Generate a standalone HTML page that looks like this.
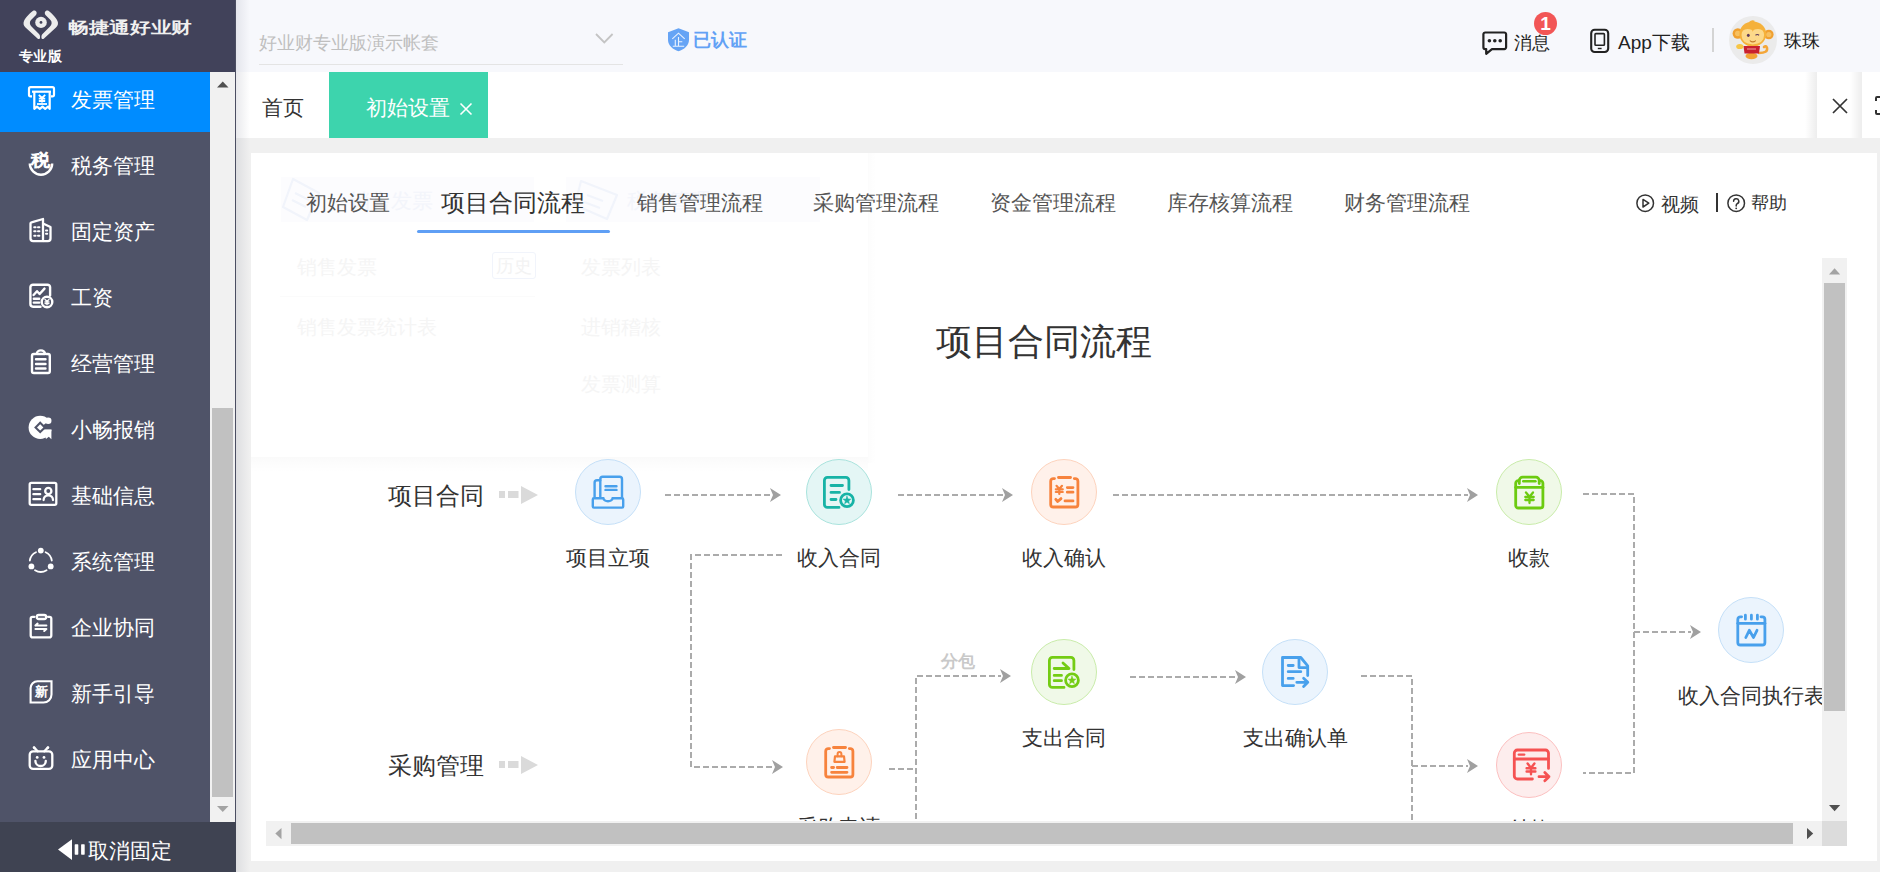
<!DOCTYPE html>
<html><head><meta charset="utf-8">
<style>
*{box-sizing:border-box;margin:0;padding:0}
html,body{width:1880px;height:872px;overflow:hidden;background:#f0f0f0;font-family:"Liberation Sans",sans-serif;}
.a{position:absolute}
.t{position:absolute;white-space:nowrap;line-height:1}
svg{position:absolute;overflow:visible}
.mt{position:absolute;left:71px;font-size:21px;color:#fff;white-space:nowrap;line-height:1}
.lbl{position:absolute;font-size:21px;color:#333;white-space:nowrap;line-height:1;width:200px;text-align:center}
.node{position:absolute;width:66px;height:66px;border-radius:50%;border:1px solid}
.nb{background:#ebf4fd;border-color:#c5e0f8}
.nt{background:#e4f6f5;border-color:#a9e3dd}
.no{background:#fff1ea;border-color:#fdd3bd}
.ng{background:#f0f9e8;border-color:#c9ecaa}
.nr{background:#fdeded;border-color:#fcc0c0}
.tab{position:absolute;top:192px;font-size:21px;color:#555;white-space:nowrap;line-height:1}
</style></head><body>

<!-- ============ SIDEBAR ============ -->
<div class="a" style="left:0;top:0;width:236px;height:872px;background:#4f5368"></div>
<div class="a" style="left:0;top:0;width:236px;height:72px;background:#41425a"></div>
<!-- logo -->
<svg style="left:23px;top:10px" width="36" height="30" viewBox="0 0 36 30">
 <g fill="#ececec">
  <path d="M10.5 0.5 C8 2 2.5 7.5 1 11 C0 13.5 0.5 15.5 2.5 17.5 L14.5 28.5 C15.5 29.5 16.8 29 17 28 C17.2 26 17 25 15.5 23.5 L8.5 16.5 C6.5 14.5 6.3 12 8 10 L13 5 C14.5 3 13.5 0 10.5 0.5 Z"/>
  <path transform="translate(35.5,0) scale(-1,1)" d="M10.5 0.5 C8 2 2.5 7.5 1 11 C0 13.5 0.5 15.5 2.5 17.5 L14.5 28.5 C15.5 29.5 16.8 29 17 28 C17.2 26 17 25 15.5 23.5 L8.5 16.5 C6.5 14.5 6.3 12 8 10 L13 5 C14.5 3 13.5 0 10.5 0.5 Z"/>
  <ellipse cx="18" cy="12.4" rx="5.8" ry="5.6"/>
 </g>
 <circle cx="18" cy="12.4" r="1.4" fill="#41425a"/>
</svg>
<div class="t" style="left:68px;top:20px;font-size:16px;font-weight:bold;color:#f0f0f0;transform:scaleX(1.29);transform-origin:0 0">畅捷通好业财</div>
<div class="t" style="left:19px;top:49px;font-size:14px;font-weight:bold;color:#fff;letter-spacing:0.4px">专业版</div>

<!-- sidebar scrollbar -->
<div class="a" style="left:210px;top:72px;width:25px;height:750px;background:#f1f1f1"></div>
<div class="a" style="left:212px;top:408px;width:21px;height:389px;background:#c1c1c1"></div>
<svg style="left:217px;top:81px" width="12" height="7" viewBox="0 0 12 7"><path d="M0 6.5 L5.75 0.5 L11.5 6.5 Z" fill="#505050"/></svg>
<svg style="left:217px;top:806px" width="12" height="7" viewBox="0 0 12 7"><path d="M0 0 L5.75 6 L11.5 0 Z" fill="#a3a3a3"/></svg>
<div class="a" style="left:235px;top:0;width:1px;height:872px;background:#4b4e62"></div>
<!-- active item -->
<div class="a" style="left:0;top:72px;width:210px;height:60px;background:#008cff"></div>
<div class="a" style="left:0;top:822px;width:236px;height:50px;background:#3f4352"></div>

<!-- menu icons -->
<svg style="left:28px;top:86px" width="27" height="24" viewBox="0 0 27 24" fill="none" stroke="#fff" stroke-width="2.2" stroke-linejoin="round">
 <path d="M4 10.3 H2.6 a1.6 1.6 0 0 1 -1.6 -1.6 V2.7 a1.6 1.6 0 0 1 1.6 -1.6 H24.4 a1.6 1.6 0 0 1 1.6 1.6 V8.7 a1.6 1.6 0 0 1 -1.6 1.6 H23"/>
 <path d="M4 5.7 H23"/>
 <path d="M6.3 5.7 V22.8 L9 20.6 L11.8 22.8 L14.5 20.6 L17.2 22.8 L20 20.6 L21.7 22.8 V5.7"/>
 <path d="M10.8 8.8 L14 12 L17.2 8.8 M14 12 V16.5 M10.8 12.6 H17.2 M10.8 15 H17.2" stroke-width="1.8"/>
 <path d="M9 18 H19" stroke-width="1.8"/>
</svg>
<svg style="left:28px;top:152px" width="26" height="25" viewBox="0 0 26 25">
 <path d="M1.8 11.5 A11.2 11.2 0 0 0 24.2 11.5" fill="none" stroke="#fff" stroke-width="2.4"/>
</svg>
<div class="t" style="left:31px;top:152px;font-size:17px;color:#fff;-webkit-text-stroke:1px #fff;transform:scaleX(1.12);transform-origin:0 0">税</div>
<svg style="left:29px;top:217px" width="24" height="26" viewBox="0 0 24 26" fill="none" stroke="#fff" stroke-width="2.3" stroke-linejoin="round">
 <path d="M14 2 L2.5 5.3 a1.2 1.2 0 0 0 -1 1.2 V21.5 a2.6 2.6 0 0 0 2.6 2.6 H14 Z"/>
 <path d="M14 6.5 L21.5 10 V21.5 a2.6 2.6 0 0 1 -2.6 2.6 H14"/>
 <path d="M5.2 10.2 H6.6 M9 10.2 H10.4 M5.2 14.2 H6.6 M9 14.2 H10.4 M5.2 18.8 H6.6 M9 18.8 H10.4 M17 13.5 H18.2 M17 16.7 H18.2" stroke-width="2" stroke-linecap="round"/>
</svg>
<svg style="left:29px;top:283px" width="25" height="26" viewBox="0 0 25 26" fill="none" stroke="#fff" stroke-width="2.4" stroke-linejoin="round" stroke-linecap="round">
 <path d="M11.5 23.7 H4 a2.6 2.6 0 0 1 -2.6 -2.6 V4.3 a2.6 2.6 0 0 1 2.6 -2.6 H18.5 a2.6 2.6 0 0 1 2.6 2.6 V12.5"/>
 <path d="M4.6 12 L8 8.2 L10.6 11 L15.5 5.6"/>
 <path d="M4.8 15.8 H10.2 M4.8 19.6 H10.2"/>
 <circle cx="18" cy="19" r="5.3"/>
 <path d="M16 16.5 L18 18.3 L20 16.5 M18 18.3 V21.8 M16 19 H20 M16 20.6 H20" stroke-width="1.3"/>
</svg>
<svg style="left:30px;top:349px" width="22" height="26" viewBox="0 0 22 26" fill="none" stroke="#fff" stroke-width="2.4" stroke-linejoin="round" stroke-linecap="round">
 <path d="M5.5 5 H3.8 a1.8 1.8 0 0 0 -1.8 1.8 V22.2 a1.8 1.8 0 0 0 1.8 1.8 H18 a1.8 1.8 0 0 0 1.8 -1.8 V6.8 a1.8 1.8 0 0 0 -1.8 -1.8 H16.5"/>
 <path d="M6.8 5 H15 a4.1 3.6 0 0 0 -8.2 0 Z"/>
 <path d="M6 10.3 H15.5 M6 15 H15.5 M6 19.5 H15.5"/>
</svg>
<svg style="left:28px;top:415px" width="26" height="26" viewBox="0 0 26 26">
 <circle cx="12.2" cy="12.4" r="11.6" fill="#fff"/>
 <path d="M12.2 12.4 L26 2 L26 14.8 L12.2 14.8 Z" fill="#4f5368"/>
 <circle cx="20.2" cy="5.8" r="3.3" fill="#fff"/>
 <path d="M15 14.6 H23.4 V24.2 L20.8 21.8 L18 24 Z" fill="#fff"/>
 <path d="M12.2 6.3 L18.3 12.4 L12.2 18.5 L6.1 12.4 Z" fill="#4f5368"/>
 <path d="M12.2 9.2 L15.4 12.4 L12.2 15.6 L9 12.4 Z" fill="#fff"/>
</svg>
<svg style="left:28px;top:481px" width="30" height="26" viewBox="0 0 30 26" fill="none" stroke="#fff" stroke-width="2.3" stroke-linejoin="round" stroke-linecap="round">
 <rect x="1.7" y="1.8" width="26.6" height="22" rx="1.6"/>
 <path d="M5.4 8.2 H12.2 M5.4 13.2 H12.2 M5.4 18.2 H12.2"/>
 <circle cx="20.3" cy="10" r="3.1"/>
 <path d="M15.6 19 a4.7 4.7 0 0 1 9.4 0"/>
</svg>
<svg style="left:28px;top:547px" width="27" height="26" viewBox="0 0 27 26">
 <g fill="#fff"><circle cx="12.8" cy="3.6" r="2.9"/><circle cx="3.4" cy="19.4" r="2.9"/><circle cx="22.7" cy="19.4" r="2.9"/></g>
 <g fill="none" stroke="#fff" stroke-width="1.8" stroke-linecap="round">
  <path d="M8 5.2 A11 11 0 0 0 1.8 13.5"/>
  <path d="M17.6 5.2 A11 11 0 0 1 23.8 13.5"/>
  <path d="M7 23.2 A11 11 0 0 0 18.6 23.2"/>
 </g>
</svg>
<svg style="left:29px;top:613px" width="25" height="26" viewBox="0 0 25 26" fill="none" stroke="#fff" stroke-width="2.3" stroke-linejoin="round" stroke-linecap="round">
 <path d="M5.5 3.8 H3.5 a1.8 1.8 0 0 0 -1.8 1.8 V22.6 a1.8 1.8 0 0 0 1.8 1.8 H20.5 a1.8 1.8 0 0 0 1.8 -1.8 V5.6 a1.8 1.8 0 0 0 -1.8 -1.8 H19"/>
 <rect x="7.8" y="2" width="9.4" height="4" rx="2"/>
 <path d="M6.4 12.6 H17.4 M8.6 10.6 L6.4 12.6 M6.4 16 H17.4 L15.2 18" stroke-width="2"/>
</svg>
<svg style="left:29px;top:680px" width="25" height="24" viewBox="0 0 25 24">
 <path d="M8.5 1.2 H22.5 V14.5 a8 8 0 0 1 -8 8 H1.6 V8.1 a7 7 0 0 1 6.9 -6.9 Z" fill="none" stroke="#fff" stroke-width="2.1"/>
</svg>
<div class="t" style="left:35px;top:685px;font-size:13px;color:#fff;-webkit-text-stroke:0.6px #fff">新</div>
<svg style="left:28px;top:745px" width="27" height="26" viewBox="0 0 27 26" fill="none" stroke="#fff" stroke-width="2.3" stroke-linecap="round" stroke-linejoin="round">
 <rect x="1.7" y="6.3" width="22.6" height="17.6" rx="3.4"/>
 <path d="M6.2 2.6 L9.6 6.3 M19.8 2.6 L16.4 6.3"/>
 <circle cx="6" cy="2.6" r="1.3" fill="#fff" stroke="none"/><circle cx="20" cy="2.6" r="1.3" fill="#fff" stroke="none"/>
 <circle cx="9.2" cy="12.4" r="1.4" fill="#fff" stroke="none"/><circle cx="16" cy="12.4" r="1.4" fill="#fff" stroke="none"/>
 <path d="M7.4 15.8 a5.2 5.2 0 0 0 10.4 0"/>
</svg>

<div class="mt" style="top:89px">发票管理</div>
<div class="mt" style="top:155px">税务管理</div>
<div class="mt" style="top:221px">固定资产</div>
<div class="mt" style="top:287px">工资</div>
<div class="mt" style="top:353px">经营管理</div>
<div class="mt" style="top:419px">小畅报销</div>
<div class="mt" style="top:485px">基础信息</div>
<div class="mt" style="top:551px">系统管理</div>
<div class="mt" style="top:617px">企业协同</div>
<div class="mt" style="top:683px">新手引导</div>
<div class="mt" style="top:749px">应用中心</div>

<svg style="left:57px;top:838px" width="29" height="23" viewBox="0 0 29 23" fill="#fff">
 <path d="M15 1.2 V22 L1 11.6 Z"/>
 <rect x="17.7" y="6.3" width="3.6" height="10.4" rx="0.6"/>
 <rect x="24.1" y="6.3" width="3.6" height="10.4" rx="0.6"/>
</svg>
<div class="t" style="left:88px;top:840px;font-size:21px;color:#fff">取消固定</div>

<!-- ============ HEADER ============ -->
<div class="a" style="left:236px;top:0;width:1644px;height:72px;background:#f7f8fc"></div>
<div class="a" style="left:236px;top:0;width:14px;height:872px;background:linear-gradient(to right,rgba(40,45,75,0.09),rgba(40,45,75,0))"></div>
<div class="t" style="left:259px;top:34px;font-size:18px;color:#bfbfbf">好业财专业版演示帐套</div>
<div class="a" style="left:259px;top:64px;width:364px;height:1px;background:#e4e4e4"></div>
<svg style="left:595px;top:33px" width="19" height="11" viewBox="0 0 19 11"><path d="M1 1 L9.3 9.5 L17.6 1" fill="none" stroke="#c4c4c4" stroke-width="1.8"/></svg>
<svg style="left:667px;top:28px" width="24" height="24" viewBox="0 0 24 24">
 <path d="M11.5 0.3 L22 4.3 V12 C22 17.5 17 21.5 11.5 23.3 C6 21.5 1 17.5 1 12 V4.3 Z" fill="#66a4f5"/>
 <path d="M5.3 10.8 L11.5 5.2 L17.7 10.8 M11.5 9 V18 M8.3 11.8 V18 M11.5 13.8 H15.3 M5.8 18.3 H17.2" fill="none" stroke="#eaf2fe" stroke-width="1.1"/>
</svg>
<div class="t" style="left:693px;top:31px;font-size:18px;font-weight:900;color:#62a1f5">已认证</div>

<svg style="left:1482px;top:31px" width="26" height="25" viewBox="0 0 26 25" fill="none" stroke="#222" stroke-width="2.2" stroke-linejoin="round">
 <path d="M3.2 1.5 H22.3 a1.8 1.8 0 0 1 1.8 1.8 V16.3 a1.8 1.8 0 0 1 -1.8 1.8 H10 L4.2 22.8 V18.1 H3.2 a1.8 1.8 0 0 1 -1.8 -1.8 V3.3 a1.8 1.8 0 0 1 1.8 -1.8 Z"/>
 <circle cx="7.4" cy="9.8" r="1.8" fill="#222" stroke="none"/><circle cx="12.8" cy="9.8" r="1.8" fill="#222" stroke="none"/><circle cx="18.2" cy="9.8" r="1.8" fill="#222" stroke="none"/>
</svg>
<div class="t" style="left:1514px;top:34px;font-size:18px;color:#222">消息</div>
<div class="a" style="left:1534px;top:12px;width:23px;height:23px;border-radius:50%;background:#f25656"></div>
<div class="t" style="left:1534px;top:14px;width:23px;text-align:center;font-size:19px;font-weight:bold;color:#fff">1</div>
<svg style="left:1589px;top:28px" width="22" height="26" viewBox="0 0 22 26" fill="none" stroke="#222" stroke-width="2.1">
 <rect x="2.2" y="1.8" width="17" height="22.2" rx="3.5"/>
 <rect x="6" y="5.6" width="9.4" height="11.6" rx="0.8" stroke-width="1.6"/>
 <path d="M8.8 20.5 H12.6" stroke-width="1.4"/>
</svg>
<div class="t" style="left:1618px;top:33px;font-size:19px;color:#222">App下载</div>
<div class="a" style="left:1712px;top:28px;width:2px;height:24px;background:#d4d4d4"></div>
<div class="a" style="left:1729px;top:16px;width:48px;height:48px;border-radius:50%;background:#ebebeb"></div>
<svg style="left:1729px;top:16px" width="48" height="48" viewBox="0 0 48 48">
 <path d="M30 37 q9 0 8 -5 q-1 -3 -3 -1" stroke="#f4a637" stroke-width="2.6" fill="none" stroke-linecap="round"/>
 <ellipse cx="22.5" cy="40" rx="6" ry="3.2" fill="#f2a234"/>
 <circle cx="8.8" cy="17.5" r="5.2" fill="#f0a030"/><circle cx="8.8" cy="17.5" r="2.8" fill="#f7c060"/>
 <circle cx="39.8" cy="18.5" r="4.8" fill="#f0a030"/><circle cx="39.8" cy="18.5" r="2.6" fill="#f7c060"/>
 <ellipse cx="23.8" cy="18" rx="13.4" ry="12.6" fill="#f5b13a"/>
 <path d="M20 6 q3 -3 6 -1 q-2 1 -1 3 Z" fill="#f5b13a"/>
 <path d="M12.5 19 q0 -6 6 -6 q5.3 0 5.3 3 q0 -3 5.3 -3 q6 0 6 6 q0 8.5 -11.3 9.5 q-11.3 -1 -11.3 -9.5 Z" fill="#fcd98a"/>
 <ellipse cx="19.3" cy="19.3" rx="1.4" ry="1.6" fill="#5b3a5a"/>
 <path d="M26.5 19.2 q1.8 -1.4 3.6 0" stroke="#5b3a5a" stroke-width="1.2" fill="none"/>
 <path d="M20.8 24 q3 2.6 6 0 v1.2 q-3 2.8 -6 0 Z" fill="#c57a2a"/>
 <path d="M14.5 30 H31 L30 37.5 H15.5 Z" fill="#c9202e"/>
 <ellipse cx="10.8" cy="30.5" rx="3.6" ry="2.6" fill="#f7c545"/>
 <path d="M18 33 h9" stroke="#f3b0b0" stroke-width="0.9"/>
</svg>
<div class="t" style="left:1784px;top:32px;font-size:18px;color:#222">珠珠</div>

<!-- ============ TABS BAR ============ -->
<div class="a" style="left:236px;top:72px;width:1644px;height:66px;background:#fff"></div>
<div class="a" style="left:236px;top:72px;width:14px;height:66px;background:linear-gradient(to right,rgba(40,45,75,0.10),rgba(40,45,75,0))"></div>
<div class="t" style="left:262px;top:97px;font-size:21px;color:#333">首页</div>
<div class="a" style="left:329px;top:72px;width:159px;height:66px;background:#3dd4ad"></div>
<div class="t" style="left:366px;top:97px;font-size:21px;color:#fff">初始设置</div>
<svg style="left:459px;top:102px" width="14" height="14" viewBox="0 0 14 14"><path d="M1.5 1.5 L12.5 12.5 M12.5 1.5 L1.5 12.5" stroke="#fff" stroke-width="1.6"/></svg>
<div class="a" style="left:1805px;top:72px;width:12px;height:66px;background:linear-gradient(to right,rgba(0,0,0,0),rgba(0,0,0,0.07))"></div>
<div class="a" style="left:1850px;top:72px;width:12px;height:66px;background:linear-gradient(to right,rgba(0,0,0,0),rgba(0,0,0,0.07))"></div>
<svg style="left:1832px;top:98px" width="16" height="16" viewBox="0 0 16 16"><path d="M1 1 L15 15 M15 1 L1 15" stroke="#333" stroke-width="1.7"/></svg>
<svg style="left:1875px;top:96px" width="5" height="19" viewBox="0 0 5 19"><path d="M5 1 H2 a1 1 0 0 0 -1 1 V5 M1 14 V17 a1 1 0 0 0 1 1 H5" fill="none" stroke="#333" stroke-width="2"/></svg>

<!-- ============ CARD ============ -->
<div class="a" style="left:251px;top:153px;width:1626px;height:708px;background:#fff"></div>


<!-- faint fading popup -->
<div class="a" style="left:251px;top:457px;width:617px;height:16px;background:linear-gradient(rgba(0,0,0,0.018),rgba(0,0,0,0))"></div>
<div class="a" style="left:868px;top:153px;width:8px;height:310px;background:linear-gradient(to right,rgba(0,0,0,0.012),rgba(0,0,0,0))"></div>
<div class="a" style="left:281px;top:177px;width:253px;height:45px;background:#fcfcfe"></div>
<div class="a" style="left:566px;top:177px;width:254px;height:45px;background:#fcfcfe"></div>
<svg style="left:281px;top:177px" width="42" height="45" viewBox="0 0 42 45" fill="none" stroke="#f1f4fb" stroke-width="2.2"><path d="M12 2 L38 16 L26 43 L2 30 Z" stroke-linejoin="round"/><path d="M14 16 L28 23 M11 23 L25 30"/></svg>
<svg style="left:573px;top:177px" width="48" height="45" viewBox="0 0 48 45" fill="none" stroke="#f1f4fb" stroke-width="2.2"><path d="M8 4 L44 18 L34 42 L2 28 Z" stroke-linejoin="round"/><path d="M14 18 L30 24 M11 25 L27 31"/></svg>
<div class="t" style="left:349px;top:190px;font-size:21px;color:#f3f5fb">销售发票</div>
<div class="t" style="left:627px;top:190px;font-size:21px;color:#f3f5fb">税务管理</div>
<div class="t" style="left:297px;top:257px;font-size:20px;color:#f5f5f5">销售发票</div>
<div class="a" style="left:492px;top:252px;width:44px;height:27px;border:1px solid #f1f4fb;border-radius:3px"></div>
<div class="t" style="left:496px;top:257px;font-size:18px;color:#f3f3f3">历史</div>
<div class="t" style="left:581px;top:257px;font-size:20px;color:#f5f5f5">发票列表</div>
<div class="a" style="left:280px;top:296px;width:255px;height:1px;background:#fbfbfb"></div>
<div class="t" style="left:297px;top:317px;font-size:20px;color:#f5f5f5">销售发票统计表</div>
<div class="t" style="left:581px;top:317px;font-size:20px;color:#f5f5f5">进销稽核</div>
<div class="t" style="left:581px;top:374px;font-size:20px;color:#f5f5f5">发票测算</div>
<div class="tab" style="left:306px">初始设置</div>
<div class="tab" style="left:441px;top:191px;font-size:24px;color:#333">项目合同流程</div>
<div class="a" style="left:417px;top:230px;width:193px;height:3px;border-radius:2px;background:#5f9ff5"></div>
<div class="tab" style="left:637px">销售管理流程</div>
<div class="tab" style="left:813px">采购管理流程</div>
<div class="tab" style="left:990px">资金管理流程</div>
<div class="tab" style="left:1167px">库存核算流程</div>
<div class="tab" style="left:1344px">财务管理流程</div>

<svg style="left:1636px;top:194px" width="19" height="19" viewBox="0 0 19 19" fill="none" stroke="#333" stroke-width="1.5">
 <circle cx="9.2" cy="9.2" r="8.3"/><path d="M7 5.4 L12.8 9.2 L7 13 Z" stroke-linejoin="round"/>
</svg>
<div class="t" style="left:1661px;top:195px;font-size:19px;color:#333">视频</div>
<div class="a" style="left:1716px;top:193px;width:2px;height:19px;background:#333"></div>
<svg style="left:1727px;top:194px" width="19" height="19" viewBox="0 0 19 19" fill="none" stroke="#333" stroke-width="1.5">
 <circle cx="9.2" cy="9.2" r="8.3"/>
 <path d="M6.6 7.3 a2.6 2.6 0 1 1 3.6 2.4 c-0.8 0.4 -1 0.9 -1 1.8 V12" stroke-linecap="round"/>
 <circle cx="9.2" cy="14.3" r="0.9" fill="#333" stroke="none"/>
</svg>
<div class="t" style="left:1751px;top:194px;font-size:18px;color:#333">帮助</div>

<div class="t" style="left:936px;top:324px;font-size:36px;color:#333">项目合同流程</div>

<!-- ============ SCROLL AREA / DIAGRAM ============ -->
<div class="a" style="left:266px;top:258px;width:1556px;height:563px;overflow:hidden">
<div class="a" style="left:-266px;top:-258px;width:1880px;height:872px">

<svg style="left:0;top:0" width="1880" height="872" viewBox="0 0 1880 872">
 <g fill="none" stroke="#ababab" stroke-width="2" stroke-dasharray="6 3">
  <path d="M665 495 H771"/>
  <path d="M898 495 H1003"/>
  <path d="M1113 495 H1468"/>
  <path d="M782 555 H691 V767 H773"/>
  <path d="M1583 494 H1634 V773 H1583"/>
  <path d="M1634 632 H1691"/>
  <path d="M889 769 H916"/>
  <path d="M916 900 V676 H1001"/>
  <path d="M1130 677 H1236"/>
  <path d="M1361 676 H1412 V900"/>
  <path d="M1412 766 H1468"/>
 </g>
 <g fill="#a0a0a0">
  <path d="M770 488 L781 495 L770 502 L773 495 Z"/>
  <path d="M1002 488 L1013 495 L1002 502 L1005 495 Z"/>
  <path d="M1467 488 L1478 495 L1467 502 L1470 495 Z"/>
  <path d="M772 760 L783 767 L772 774 L775 767 Z"/>
  <path d="M1690 625 L1701 632 L1690 639 L1693 632 Z"/>
  <path d="M1000 669 L1011 676 L1000 683 L1003 676 Z"/>
  <path d="M1235 670 L1246 677 L1235 684 L1238 677 Z"/>
  <path d="M1467 759 L1478 766 L1467 773 L1470 766 Z"/>
 </g>
 <!-- left category arrows -->
 <g fill="#dadada">
  <rect x="499" y="491" width="6" height="7"/><rect x="508" y="491" width="10.5" height="7"/><path d="M521 486 L538 495 L521 504 Z"/>
  <rect x="499" y="761" width="6" height="7"/><rect x="508" y="761" width="10.5" height="7"/><path d="M521 756 L538 765 L521 774 Z"/>
 </g>
</svg>

<div class="t" style="left:388px;top:484px;font-size:24px;color:#333">项目合同</div>
<div class="t" style="left:388px;top:754px;font-size:24px;color:#333">采购管理</div>
<div class="t" style="left:941px;top:653px;font-size:17px;font-weight:bold;color:#c9c9c9">分包</div>

<div class="node nb" style="left:575px;top:459px"></div>
<div class="node nt" style="left:806px;top:459px"></div>
<div class="node no" style="left:1031px;top:459px"></div>
<div class="node ng" style="left:1496px;top:459px"></div>
<div class="node nb" style="left:1718px;top:597px"></div>
<div class="node ng" style="left:1031px;top:639px"></div>
<div class="node nb" style="left:1262px;top:639px"></div>
<div class="node no" style="left:806px;top:729px"></div>
<div class="node nr" style="left:1496px;top:732px"></div>

<!-- icon 1 项目立项 -->
<svg style="left:588px;top:472px" width="40" height="40" viewBox="0 0 40 40" fill="none" stroke="#48a0ec" stroke-width="2.4" stroke-linejoin="round" stroke-linecap="round">
 <path d="M12.3 25 V7.2 a2.4 2.4 0 0 1 2.4 -2.4 H31.6 a2.4 2.4 0 0 1 2.4 2.4 V25"/>
 <path d="M12.3 8.3 H9 a2.4 2.4 0 0 0 -2.4 2.4 V25"/>
 <path d="M17.5 14.2 H28.5 M17.5 17.9 H28.5"/>
 <path d="M6 26.2 H15.5 a4.5 3 0 0 0 9 0 H34 a1.2 1.2 0 0 1 1.2 1.2 V34.4 a1.2 1.2 0 0 1 -1.2 1.2 H6 a1.2 1.2 0 0 1 -1.2 -1.2 V27.4 a1.2 1.2 0 0 1 1.2 -1.2 Z"/>
</svg>
<!-- icon 2 收入合同 -->
<svg style="left:819px;top:472px" width="40" height="40" viewBox="0 0 40 40" fill="none" stroke="#17b3a6" stroke-width="2.8" stroke-linejoin="round" stroke-linecap="round">
 <path d="M20 35.4 H8.4 a3 3 0 0 1 -3 -3 V8.4 a3 3 0 0 1 3 -3 H26.9 a3 3 0 0 1 3 3 V17.5"/>
 <path d="M12 13.5 H23.5 M12 20.4 H20.5 M12 27.5 H17"/>
 <circle cx="28" cy="28.2" r="6.4"/>
 <polygon transform="translate(28,28.4)" points="0.00,-4.00 1.00,-1.38 3.80,-1.24 1.62,0.53 2.35,3.24 0.00,1.70 -2.35,3.24 -1.62,0.53 -3.80,-1.24 -1.00,-1.38" fill="#17b3a6" stroke-width="0.6"/>
</svg>
<!-- icon 3 收入确认 -->
<svg style="left:1044px;top:472px" width="40" height="40" viewBox="0 0 40 40" fill="none" stroke="#f7833d" stroke-width="2.8" stroke-linejoin="round" stroke-linecap="round">
 <path d="M10.5 6.6 H9.3 a2.6 2.6 0 0 0 -2.6 2.6 V32.4 a2.6 2.6 0 0 0 2.6 2.6 H31.3 a2.6 2.6 0 0 0 2.6 -2.6 V9.2 a2.6 2.6 0 0 0 -2.6 -2.6 H30.3"/>
 <path d="M14.5 5.5 H26.5"/>
 <path d="M12.5 13.8 L15.3 17 L18 13.8 M15.3 17 V22 M11.8 17.3 H18.8 M11.8 20 H18.8" stroke-width="2.2"/>
 <path d="M23.3 15.6 H29 M23.3 20.2 H29"/>
 <path d="M11.8 27.3 L13.7 29.5 L17 26.6"/>
 <path d="M21 28.9 H29"/>
</svg>
<!-- icon 4 收款 -->
<svg style="left:1509px;top:472px" width="40" height="40" viewBox="0 0 40 40" fill="none" stroke="#6ccb10" stroke-width="2.8" stroke-linejoin="round" stroke-linecap="round">
 <path d="M10 8.7 H9.3 a2.6 2.6 0 0 0 -2.6 2.6 V33.4 a2.6 2.6 0 0 0 2.6 2.6 H31.3 a2.6 2.6 0 0 0 2.6 -2.6 V11.3 a2.6 2.6 0 0 0 -2.6 -2.6 H30.6"/>
 <path d="M6.7 15.4 H33.9"/>
 <path d="M10.3 11.5 V8.5 a3.3 3.3 0 0 1 3.3 -3.3 H26.9 a3.3 3.3 0 0 1 3.3 3.3 V11.5"/>
 <path d="M14.2 9.2 H26.5" stroke-width="2.4"/>
 <path d="M17 20.5 L20.5 24.8 L24 20.5 M20.5 24.8 V31 M16.3 25 H24.7 M16.3 28 H24.7" stroke-width="2.3"/>
</svg>
<!-- icon 5 收入合同执行表 -->
<svg style="left:1731px;top:610px" width="40" height="40" viewBox="0 0 40 40" fill="none" stroke="#48a0ec" stroke-width="2.8" stroke-linejoin="round" stroke-linecap="round">
 <path d="M10.6 6.8 H9.4 a2.6 2.6 0 0 0 -2.6 2.6 V32.4 a2.6 2.6 0 0 0 2.6 2.6 H31.3 a2.6 2.6 0 0 0 2.6 -2.6 V9.4 a2.6 2.6 0 0 0 -2.6 -2.6 H30"/>
 <path d="M6.8 13.3 H33.9"/>
 <path d="M14.4 5.2 V9.2 M20.4 5.2 V9.2 M26.4 5.2 V9.2"/>
 <path d="M14.8 27.5 L18.3 20.3 L22.5 27.5 L26 20.3"/>
</svg>
<!-- icon 6 支出合同 -->
<svg style="left:1044px;top:652px" width="40" height="40" viewBox="0 0 40 40" fill="none" stroke="#74cc14" stroke-width="2.8" stroke-linejoin="round" stroke-linecap="round">
 <path d="M20 35.4 H8.4 a3 3 0 0 1 -3 -3 V8.4 a3 3 0 0 1 3 -3 H26.9 a3 3 0 0 1 3 3 V17.5"/>
 <path d="M10.2 16.5 H25 L19 11"/>
 <path d="M10.2 23.4 H17.5 M10.2 28.7 H17.5"/>
 <circle cx="28" cy="28.2" r="6.4"/>
 <polygon transform="translate(28,28.4)" points="0.00,-4.00 1.00,-1.38 3.80,-1.24 1.62,0.53 2.35,3.24 0.00,1.70 -2.35,3.24 -1.62,0.53 -3.80,-1.24 -1.00,-1.38" fill="#74cc14" stroke-width="0.6"/>
</svg>
<!-- icon 7 支出确认单 -->
<svg style="left:1275px;top:652px" width="40" height="40" viewBox="0 0 40 40" fill="none" stroke="#48a0ec" stroke-width="2.8" stroke-linejoin="round" stroke-linecap="round">
 <path d="M18.6 33.6 H7.5 V5.5 H25.8 L32.7 13.8 V23.5"/>
 <path d="M24 5.5 V15.6 H32.7"/>
 <path d="M13.2 13.5 H18.2 M13.2 19.7 H25.8 M13.2 26.4 H18.2"/>
 <path d="M21.8 30.3 H32.6 M28.6 26.2 L32.8 30.3 L28.6 34.4"/>
</svg>
<!-- icon 8 采购申请 -->
<svg style="left:819px;top:742px" width="40" height="40" viewBox="0 0 40 40" fill="none" stroke="#f7833d" stroke-width="2.8" stroke-linejoin="round" stroke-linecap="round">
 <path d="M10.5 6.6 H9.3 a2.6 2.6 0 0 0 -2.6 2.6 V32.4 a2.6 2.6 0 0 0 2.6 2.6 H31.3 a2.6 2.6 0 0 0 2.6 -2.6 V9.2 a2.6 2.6 0 0 0 -2.6 -2.6 H30.3"/>
 <path d="M14.5 5.5 H26.5"/>
 <path d="M16 14.3 H25 L25.6 19.8 H15.4 Z" stroke-width="2.2"/>
 <path d="M18.6 14.3 V12 a1.9 1.9 0 0 1 3.8 0 V14.3" stroke-width="2"/>
 <path d="M12.6 25.5 H14.6 M18.2 25.5 H28 M12.6 30.3 H28"/>
</svg>
<!-- icon 9 付款 -->
<svg style="left:1509px;top:745px" width="42" height="40" viewBox="0 0 42 40" fill="none" stroke="#f55252" stroke-width="2.8" stroke-linejoin="round" stroke-linecap="round">
 <path d="M23.4 34 H8.3 a3 3 0 0 1 -3 -3 V8 a3 3 0 0 1 3 -3 H36.5 a3 3 0 0 1 3 3 V23.4"/>
 <path d="M5.3 14 H39.5"/>
 <path d="M9.8 9.6 H15.2" stroke-width="2.4"/>
 <path d="M18.6 18.5 L22 23 L25.4 18.5 M22 23 V29.2 M17.6 23.2 H26.4 M17.6 26.5 H26.4" stroke-width="2.4"/>
 <path d="M30 31.7 H40 M35.8 27.6 L40 31.7 L35.8 35.8"/>
</svg>

<div class="lbl" style="left:508px;top:547px">项目立项</div>
<div class="lbl" style="left:739px;top:547px">收入合同</div>
<div class="lbl" style="left:964px;top:547px">收入确认</div>
<div class="lbl" style="left:1429px;top:547px">收款</div>
<div class="lbl" style="left:1651px;top:685px">收入合同执行表</div>
<div class="lbl" style="left:964px;top:727px">支出合同</div>
<div class="lbl" style="left:1195px;top:727px">支出确认单</div>
<div class="lbl" style="left:739px;top:816px">采购申请</div>
<div class="lbl" style="left:1429px;top:818px">付款</div>
</div>
</div>

<!-- scrollbars -->
<div class="a" style="left:1822px;top:258px;width:25px;height:563px;background:#f1f1f1"></div>
<div class="a" style="left:1824px;top:283px;width:21px;height:428px;background:#c1c1c1"></div>
<svg style="left:1829px;top:268px" width="12" height="7" viewBox="0 0 12 7"><path d="M0 6.5 L5.6 0.3 L11.2 6.5 Z" fill="#a3a3a3"/></svg>
<svg style="left:1829px;top:805px" width="12" height="7" viewBox="0 0 12 7"><path d="M0 0 L5.6 6.2 L11.2 0 Z" fill="#505050"/></svg>
<div class="a" style="left:266px;top:821px;width:1556px;height:25px;background:#f1f1f1"></div>
<div class="a" style="left:291px;top:823px;width:1502px;height:21px;background:#c1c1c1"></div>
<svg style="left:275px;top:828px" width="7" height="12" viewBox="0 0 7 12"><path d="M6.5 0 L0.3 5.6 L6.5 11.2 Z" fill="#a3a3a3"/></svg>
<svg style="left:1807px;top:828px" width="7" height="12" viewBox="0 0 7 12"><path d="M0 0 L6.2 5.6 L0 11.2 Z" fill="#505050"/></svg>
<div class="a" style="left:1822px;top:821px;width:25px;height:25px;background:#dcdcdc"></div>


</body></html>
